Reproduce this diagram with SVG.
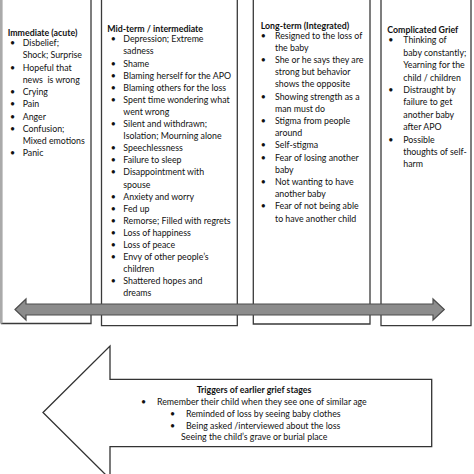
<svg xmlns="http://www.w3.org/2000/svg" width="474" height="474" viewBox="0 0 474 474">
<style>
.box{fill:#fff;stroke:#3a3a3a;stroke-width:1.3}
.t{font-family:Lato,"Liberation Sans",sans-serif;font-size:8.8px;fill:#111}
.h{font-weight:bold}
.b{text-anchor:middle}
.c{text-anchor:middle}
</style>
<rect width="474" height="474" fill="#fff"/>
<g id="box-immediate">
<path class="box" d="M1.5,-5 V323.5 H91 V-5"/>
<line x1="1.2" y1="0" x2="1.2" y2="323.5" stroke="#aaa" stroke-width="2.4"/>
<text class="t h" x="7.7" y="35.5">Immediate (acute)</text>
<text class="t b" x="12.5" y="46">•</text><text class="t" x="22.7" y="46">Disbelief;</text>
<text class="t" x="22.7" y="58.25">Shock; Surprise</text>
<text class="t b" x="12.5" y="70.5">•</text><text class="t" x="22.7" y="70.5">Hopeful that</text>
<text class="t" x="22.7" y="82.75" style="white-space:pre">news  is wrong</text>
<text class="t b" x="12.5" y="95">•</text><text class="t" x="22.7" y="95">Crying</text>
<text class="t b" x="12.5" y="107.25">•</text><text class="t" x="22.7" y="107.25">Pain</text>
<text class="t b" x="12.5" y="119.5">•</text><text class="t" x="22.7" y="119.5">Anger</text>
<text class="t b" x="12.5" y="131.75">•</text><text class="t" x="22.7" y="131.75">Confusion;</text>
<text class="t" x="22.7" y="144">Mixed emotions</text>
<text class="t b" x="12.5" y="156.25">•</text><text class="t" x="22.7" y="156.25">Panic</text>
</g>
<g id="box-midterm">
<path class="box" d="M101.5,-5 V325.7 H237.3 V-5"/>
<text class="t h" x="107.3" y="32.3">Mid-term / intermediate</text>
<text class="t b" x="113.3" y="42.3">•</text><text class="t" x="123.3" y="42.3">Depression; Extreme</text>
<text class="t" x="123.3" y="54.4">sadness</text>
<text class="t b" x="113.3" y="66.5">•</text><text class="t" x="123.3" y="66.5">Shame</text>
<text class="t b" x="113.3" y="78.6">•</text><text class="t" x="123.3" y="78.6">Blaming herself for the APO</text>
<text class="t b" x="113.3" y="90.7">•</text><text class="t" x="123.3" y="90.7">Blaming others for the loss</text>
<text class="t b" x="113.3" y="102.8">•</text><text class="t" x="123.3" y="102.8">Spent time wondering what</text>
<text class="t" x="123.3" y="114.9">went wrong</text>
<text class="t b" x="113.3" y="127">•</text><text class="t" x="123.3" y="127">Silent and withdrawn;</text>
<text class="t" x="123.3" y="139.1">Isolation; Mourning alone</text>
<text class="t b" x="113.3" y="151.2">•</text><text class="t" x="123.3" y="151.2">Speechlessness</text>
<text class="t b" x="113.3" y="163.3">•</text><text class="t" x="123.3" y="163.3">Failure to sleep</text>
<text class="t b" x="113.3" y="175.4">•</text><text class="t" x="123.3" y="175.4">Disappointment with</text>
<text class="t" x="123.3" y="187.5">spouse</text>
<text class="t b" x="113.3" y="199.6">•</text><text class="t" x="123.3" y="199.6">Anxiety and worry</text>
<text class="t b" x="113.3" y="211.7">•</text><text class="t" x="123.3" y="211.7">Fed up</text>
<text class="t b" x="113.3" y="223.8">•</text><text class="t" x="123.3" y="223.8">Remorse; Filled with regrets</text>
<text class="t b" x="113.3" y="235.9">•</text><text class="t" x="123.3" y="235.9">Loss of happiness</text>
<text class="t b" x="113.3" y="248">•</text><text class="t" x="123.3" y="248">Loss of peace</text>
<text class="t b" x="113.3" y="260.1">•</text><text class="t" x="123.3" y="260.1">Envy of other people’s</text>
<text class="t" x="123.3" y="272.2">children</text>
<text class="t b" x="113.3" y="284.3">•</text><text class="t" x="123.3" y="284.3">Shattered hopes and</text>
<text class="t" x="123.3" y="296.4">dreams</text>
</g>
<g id="box-longterm">
<path class="box" d="M253.3,-5 V324 H370 V-5"/>
<text class="t h" x="260.7" y="28.5">Long-term (Integrated)</text>
<text class="t b" x="263.3" y="38.5">•</text><text class="t" x="275" y="38.5">Resigned to the loss of</text>
<text class="t" x="275" y="50.7">the baby</text>
<text class="t b" x="263.3" y="62.9">•</text><text class="t" x="275" y="62.9">She or he says they are</text>
<text class="t" x="275" y="75.1">strong but behavior</text>
<text class="t" x="275" y="87.3">shows the opposite</text>
<text class="t b" x="263.3" y="99.5">•</text><text class="t" x="275" y="99.5">Showing strength as a</text>
<text class="t" x="275" y="111.7">man must do</text>
<text class="t b" x="263.3" y="123.9">•</text><text class="t" x="275" y="123.9">Stigma from people</text>
<text class="t" x="275" y="136.1">around</text>
<text class="t b" x="263.3" y="148.3">•</text><text class="t" x="275" y="148.3">Self-stigma</text>
<text class="t b" x="263.3" y="160.5">•</text><text class="t" x="275" y="160.5">Fear of losing another</text>
<text class="t" x="275" y="172.7">baby</text>
<text class="t b" x="263.3" y="184.9">•</text><text class="t" x="275" y="184.9">Not wanting to have</text>
<text class="t" x="275" y="197.1">another baby</text>
<text class="t b" x="263.3" y="209.3">•</text><text class="t" x="275" y="209.3">Fear of not being able</text>
<text class="t" x="275" y="221.5">to have another child</text>
</g>
<g id="box-complicated">
<path class="box" d="M381,-5 V325.7 H471 V-5"/>
<text class="t h" x="387.3" y="33.3">Complicated Grief</text>
<text class="t b" x="390.7" y="43.3">•</text><text class="t" x="403.3" y="43.3">Thinking of</text>
<text class="t" x="403.3" y="55.7">baby constantly;</text>
<text class="t" x="403.3" y="68.1">Yearning for the</text>
<text class="t" x="403.3" y="80.5">child / children</text>
<text class="t b" x="390.7" y="92.9">•</text><text class="t" x="403.3" y="92.9">Distraught by</text>
<text class="t" x="403.3" y="105.3">failure to get</text>
<text class="t" x="403.3" y="117.7">another baby</text>
<text class="t" x="403.3" y="130.1">after APO</text>
<text class="t b" x="390.7" y="142.5">•</text><text class="t" x="403.3" y="142.5">Possible</text>
<text class="t" x="403.3" y="154.9">thoughts of self-</text>
<text class="t" x="403.3" y="167.3">harm</text>
</g>
<g id="connectors">
<path d="M15,309.5 L26,299 L26,304 L433,304 L433,299 L444.3,309.5 L433,320 L433,315 L26,315 L26,320 Z" fill="#8c8c8c" stroke="#4d4d4d" stroke-width="1.2" stroke-linejoin="miter"/>
</g>
<g id="triggers">
<path d="M43,412.5 L110,346 L110,379.3 L431.7,379.3 L431.7,446.7 L110,446.7 L110,479 Z" fill="#fff" stroke="#333" stroke-width="1.3"/>
<text class="t h c" x="254" y="393.2">Triggers of earlier grief stages</text>
<text class="t b" x="143.5" y="404.9">•</text><text class="t" x="157" y="404.9">Remember their child when they see one of similar age</text>
<text class="t b" x="172.5" y="416.5">•</text><text class="t" x="186" y="416.5">Reminded of loss by seeing baby clothes</text>
<text class="t b" x="172.5" y="428.5">•</text><text class="t" x="186" y="428.5">Being asked /interviewed about the loss</text>
<text class="t" x="181" y="440.2">Seeing the child’s grave or burial place</text>
</g>
</svg>
